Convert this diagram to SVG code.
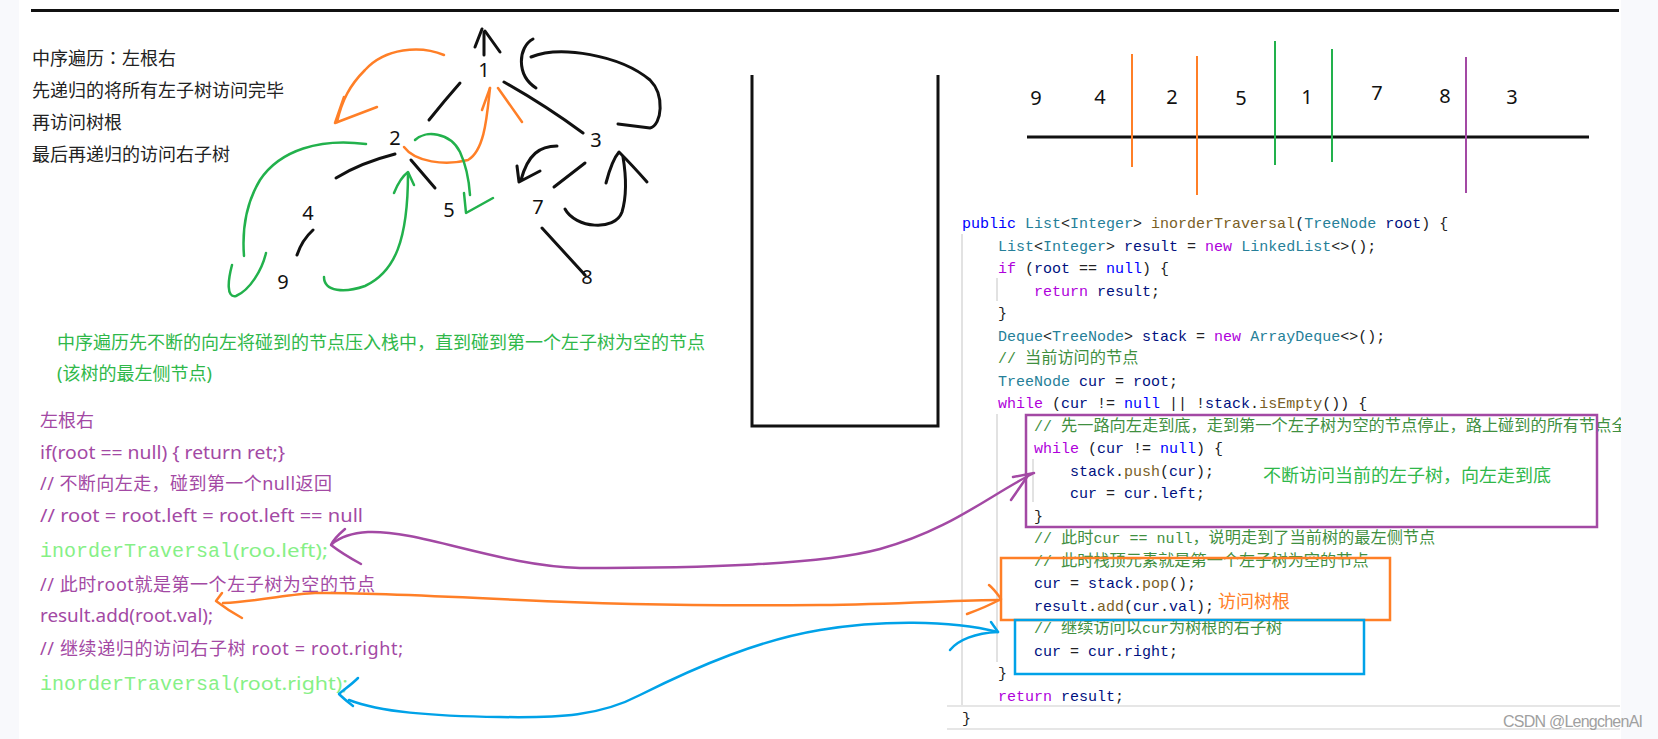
<svg xmlns="http://www.w3.org/2000/svg" width="1658" height="739" viewBox="0 0 1658 739">
<style>
.bg{fill:#ffffff}
.side{fill:#f8f9fc}
.blk{fill:none;stroke:#111;stroke-width:3;stroke-linecap:round;stroke-linejoin:round}
.org{fill:none;stroke:#ff7f27;stroke-width:2.5;stroke-linecap:round;stroke-linejoin:round}
.grn{fill:none;stroke:#22b14c;stroke-width:2.5;stroke-linecap:round;stroke-linejoin:round}
.pur{fill:none;stroke:#a349a4;stroke-width:2.5;stroke-linecap:round;stroke-linejoin:round}
.blu{fill:none;stroke:#00a2e8;stroke-width:2.5;stroke-linecap:round;stroke-linejoin:round}
.tn{font-family:"Noto Sans","DejaVu Sans",sans-serif;font-size:20px;fill:#111;text-anchor:middle}
.zhb{font-family:"Noto Sans","Noto Sans CJK SC",sans-serif;font-size:18px;fill:#222}
.zhg{font-family:"Noto Sans","Noto Sans CJK SC",sans-serif;font-size:18px;fill:#2fb84a}
.zhp{font-family:"Noto Sans","Noto Sans CJK SC",sans-serif;font-size:18px;fill:#a349a4}
.lg{font-family:"Noto Sans","Noto Sans CJK SC",sans-serif;font-size:18px;fill:#86f086}
.lgm{font-family:"Liberation Mono","DejaVu Sans Mono",monospace;font-size:20px;fill:#86f086}
.code{font-family:"Liberation Mono","DejaVu Sans Mono","Noto Sans CJK SC",monospace;font-size:15px;fill:#222}
.zh{font-family:"Noto Sans CJK SC",sans-serif;font-size:16.2px}
.cm{fill:#3f8f3f}
.kw{fill:#af00db}
.st{fill:#0000ff}
.ty{fill:#267f99}
.fn{fill:#795e26}
.vr{fill:#001080}
.guide{stroke:#d8d8d8;stroke-width:1.5}
.sep{stroke:#e6e6e6;stroke-width:2}
</style>
<defs>
<clipPath id="codeclip"><rect x="940" y="200" width="681" height="539"/></clipPath>
</defs>
<rect class="bg" x="0" y="0" width="1658" height="739"/>
<rect class="side" x="0" y="0" width="19" height="739"/>
<rect class="side" x="1621" y="0" width="37" height="739"/>
<line x1="31" y1="10.5" x2="1619" y2="10.5" stroke="#111" stroke-width="3"/>

<g id="intro-text">
<text class="zhb" x="32" y="65">中序遍历<tspan font-family="Noto Sans CJK TC, sans-serif">：</tspan>左根右</text>
<text class="zhb" x="32" y="97">先递归的将所有左子树访问完毕</text>
<text class="zhb" x="32" y="129">再访问树根</text>
<text class="zhb" x="32" y="161">最后再递归的访问右子树</text>
</g>

<g id="tree-edges">
<path class="blk" d="M460 83 Q445 100 429 120"/>
<path class="blk" d="M504 82 Q545 105 583 133"/>
<path class="blk" d="M395 154 Q360 163 336 178"/>
<path class="blk" d="M411 160 L435 188"/>
<path class="blk" d="M585 163 L554 187"/>
<path class="blk" d="M313 230 Q302 240 297 255"/>
<path class="blk" d="M542 228 L585 275"/>
</g>

<g id="tree-nodes">
<g id="n1"><text class="tn" x="484" y="77">1</text></g>
<g id="n2"><text class="tn" x="395" y="145">2</text></g>
<g id="n3"><text class="tn" x="596" y="147">3</text></g>
<g id="n4"><text class="tn" x="308" y="220">4</text></g>
<g id="n5"><text class="tn" x="449" y="217">5</text></g>
<g id="n7"><text class="tn" x="538" y="214">7</text></g>
<g id="n8"><text class="tn" x="587" y="284">8</text></g>
<g id="n9"><text class="tn" x="283" y="289">9</text></g>
</g>

<g id="tree-arrows">
<path class="blk" d="M484 55 L484 32"/>
<path class="blk" d="M475 47 L482 29 M485 31 L500 52"/>
<path class="blk" d="M531 57 C560 45 620 55 650 80 C665 95 662 125 650 128 L618 124"/>
<path class="blk" d="M533 39 C518 47 516 75 536 88"/>
<path class="blk" d="M565 209 C575 228 615 232 622 212 C627 195 626 175 623 157"/>
<path class="blk" d="M606 183 Q612 160 619 152 Q632 165 647 182"/>
<path class="blk" d="M557 146 C540 146 528 154 521 180 M517 166 L519 182 L540 171"/>
<path class="org" d="M444 55 C420 45 385 48 365 70 C350 85 342 100 337 122"/>
<path class="org" d="M344 97 L335 123 L377 107"/>
<path class="org" d="M404 147 C415 162 445 166 468 160 C485 150 487 115 490 88"/>
<path class="org" d="M482 110 L490 88"/>
<path class="org" d="M498 88 L522 122"/>
<path class="grn" d="M366 144 C320 138 280 150 260 180 C245 205 242 230 244 256"/>
<path class="grn" d="M232 265 C228 280 226 298 236 296 C250 290 262 270 266 253"/>
<path class="grn" d="M324 277 C324 292 345 293 365 286 C395 272 408 240 408 173"/>
<path class="grn" d="M394 193 Q400 178 408 172 L414 185"/>
<path class="grn" d="M415 140 C425 130 450 132 460 152 C466 165 469 180 470 195"/>
<path class="grn" d="M464 193 L466 213 L493 198"/>
</g>

<g id="stack">
<path d="M752 75 L752 426 L938 426 L938 75" fill="none" stroke="#111" stroke-width="3"/>
</g>

<g id="sequence">
<line x1="1027" y1="137" x2="1589" y2="137" stroke="#111" stroke-width="3"/>
<text class="tn" x="1036" y="105">9</text>
<text class="tn" x="1100" y="104">4</text>
<text class="tn" x="1172" y="104">2</text>
<text class="tn" x="1241" y="105">5</text>
<text class="tn" x="1307" y="104">1</text>
<text class="tn" x="1377" y="100">7</text>
<text class="tn" x="1445" y="103">8</text>
<text class="tn" x="1512" y="104">3</text>
<line x1="1132" y1="54" x2="1132" y2="167" stroke="#ff7f27" stroke-width="2"/>
<line x1="1197" y1="56" x2="1197" y2="195" stroke="#ff7f27" stroke-width="2"/>
<line x1="1275" y1="41" x2="1275" y2="165" stroke="#22b14c" stroke-width="2"/>
<line x1="1332" y1="49" x2="1332" y2="162" stroke="#22b14c" stroke-width="2"/>
<line x1="1466" y1="57" x2="1466" y2="193" stroke="#a349a4" stroke-width="2"/>
</g>

<g id="note-text">
<text class="zhg" x="57" y="349">中序遍历先不断的向左将碰到的节点压入栈中，直到碰到第一个左子树为空的节点</text>
<text class="zhg" x="57" y="380">(该树的最左侧节点)</text>
</g>

<g id="recursive-code">
<text class="zhp" x="40" y="427">左根右</text>
<text class="zhp" x="40" y="459" textLength="245" lengthAdjust="spacingAndGlyphs">if(root == null) { return ret;}</text>
<text class="zhp" x="40" y="490" textLength="292" lengthAdjust="spacing">// 不断向左走，碰到第一个null返回</text>
<text class="zhp" x="40" y="522" textLength="323" lengthAdjust="spacingAndGlyphs">// root = root.left = root.left == null</text>
<text class="lgm" x="40" y="557">inorderTraversal</text>
<text class="lg" x="233" y="557" textLength="95" lengthAdjust="spacingAndGlyphs">(roo.left);</text>
<text class="zhp" x="40" y="591" textLength="335" lengthAdjust="spacing">// 此时root就是第一个左子树为空的节点</text>
<text class="zhp" x="40" y="622" textLength="173" lengthAdjust="spacingAndGlyphs">result.add(root.val);</text>
<text class="zhp" x="40" y="655" textLength="363" lengthAdjust="spacing">// 继续递归的访问右子树 root = root.right;</text>
<text class="lgm" x="40" y="690">inorderTraversal</text>
<text class="lg" x="233" y="690" textLength="115" lengthAdjust="spacingAndGlyphs">(root.right);</text>
</g>

<g id="code-panel">
<line class="guide" x1="962" y1="234" x2="962" y2="705"/>
<line class="guide" x1="997" y1="278" x2="997" y2="301"/>
<line class="guide" x1="997" y1="414" x2="997" y2="662"/>
<line class="guide" x1="1033" y1="459" x2="1033" y2="502"/>
<line class="sep" x1="947" y1="706" x2="1620" y2="706"/>
<line class="sep" x1="947" y1="729" x2="1620" y2="729"/>
<g clip-path="url(#codeclip)">
<text class="code" x="962" y="228"><tspan class="st">public</tspan> <tspan class="ty">List</tspan>&lt;<tspan class="ty">Integer</tspan>&gt; <tspan class="fn">inorderTraversal</tspan>(<tspan class="ty">TreeNode</tspan> <tspan class="vr">root</tspan>) {</text>
<text class="code" x="998" y="250.5"><tspan class="ty">List</tspan>&lt;<tspan class="ty">Integer</tspan>&gt; <tspan class="vr">result</tspan> = <tspan class="kw">new</tspan> <tspan class="ty">LinkedList</tspan>&lt;&gt;();</text>
<text class="code" x="998" y="273"><tspan class="kw">if</tspan> (<tspan class="vr">root</tspan> == <tspan class="st">null</tspan>) {</text>
<text class="code" x="1034" y="295.5"><tspan class="kw">return</tspan> <tspan class="vr">result</tspan>;</text>
<text class="code" x="998" y="318">}</text>
<text class="code" x="998" y="340.5"><tspan class="ty">Deque</tspan>&lt;<tspan class="ty">TreeNode</tspan>&gt; <tspan class="vr">stack</tspan> = <tspan class="kw">new</tspan> <tspan class="ty">ArrayDeque</tspan>&lt;&gt;();</text>
<text class="code cm" x="998" y="363">// <tspan class="zh">当前访问的节点</tspan></text>
<text class="code" x="998" y="385.5"><tspan class="ty">TreeNode</tspan> <tspan class="vr">cur</tspan> = <tspan class="vr">root</tspan>;</text>
<text class="code" x="998" y="408"><tspan class="kw">while</tspan> (<tspan class="vr">cur</tspan> != <tspan class="st">null</tspan> || !<tspan class="vr">stack</tspan>.<tspan class="fn">isEmpty</tspan>()) {</text>
<text class="code cm" x="1034" y="430.5">// <tspan class="zh">先一路向左走到底，走到第一个左子树为空的节点停止，路上碰到的所有节点全</tspan></text>
<text class="code" x="1034" y="453"><tspan class="kw">while</tspan> (<tspan class="vr">cur</tspan> != <tspan class="st">null</tspan>) {</text>
<text class="code" x="1070" y="475.5"><tspan class="vr">stack</tspan>.<tspan class="fn">push</tspan>(<tspan class="vr">cur</tspan>);</text>
<text class="code" x="1070" y="498"><tspan class="vr">cur</tspan> = <tspan class="vr">cur</tspan>.<tspan class="vr">left</tspan>;</text>
<text class="code" x="1034" y="520.5">}</text>
<text class="code cm" x="1034" y="543">// <tspan class="zh">此时</tspan>cur == null<tspan class="zh">，说明走到了当前树的最左侧节点</tspan></text>
<text class="code cm" x="1034" y="565.5">// <tspan class="zh">此时栈顶元素就是第一个左子树为空的节点</tspan></text>
<text class="code" x="1034" y="588"><tspan class="vr">cur</tspan> = <tspan class="vr">stack</tspan>.<tspan class="fn">pop</tspan>();</text>
<text class="code" x="1034" y="610.5"><tspan class="vr">result</tspan>.<tspan class="fn">add</tspan>(<tspan class="vr">cur</tspan>.<tspan class="vr">val</tspan>);</text>
<text class="code cm" x="1034" y="633">// <tspan class="zh">继续访问以</tspan>cur<tspan class="zh">为树根的右子树</tspan></text>
<text class="code" x="1034" y="655.5"><tspan class="vr">cur</tspan> = <tspan class="vr">cur</tspan>.<tspan class="vr">right</tspan>;</text>
<text class="code" x="998" y="678">}</text>
<text class="code" x="998" y="700.5"><tspan class="kw">return</tspan> <tspan class="vr">result</tspan>;</text>
<text class="code" x="962" y="723">}</text>
</g>
</g>

<g id="box-left-loop">
<rect x="1026" y="415" width="571" height="112" fill="none" stroke="#a349a4" stroke-width="2.5"/>
<text class="zhg" x="1263" y="482">不断访问当前的左子树，向左走到底</text>
</g>
<g id="box-root">
<rect x="1001" y="558" width="389" height="62" fill="none" stroke="#ff7f27" stroke-width="2.5"/>
<text x="1218" y="608" font-family="Noto Sans CJK SC, sans-serif" font-size="18" fill="#ff7f27">访问树根</text>
</g>
<g id="box-right">
<rect x="1015" y="620" width="349" height="54" fill="none" stroke="#00a2e8" stroke-width="2.5"/>
</g>

<g id="connectors">
<path class="pur" d="M1032 474 C990 495 950 530 880 549 C820 565 700 568 580 568 C500 566 420 530 368 532 C352 533 340 537 332 544"/>
<path class="pur" d="M345 529 C338 535 333 540 331 545 C340 552 350 558 361 564"/>
<path class="pur" d="M1013 477 L1034 473 M1011 500 L1027 477"/>
<path class="org" d="M1000 600 C960 600 900 604 820 605 C720 606 600 604 520 600 C440 596 360 592 315 593 C290 594 260 601 223 603"/>
<path class="org" d="M222 593 L216 601 C225 608 233 613 242 618"/>
<path class="org" d="M989 585 C995 590 998 595 1001 599 C990 605 978 610 967 614"/>
<path class="blu" d="M349 700 C380 712 430 716 500 717 C560 718 600 716 640 695 C700 665 760 640 820 630 C880 620 950 620 998 632"/>
<path class="blu" d="M991 622 L998 632 M950 650 C958 640 975 633 998 632"/>
<path class="blu" d="M358 678 C350 686 343 690 339 694 C344 699 348 702 353 706"/>
</g>

<text x="1503" y="727" font-family="Liberation Sans, Arial, sans-serif" font-size="16" fill="#a0a0a0" textLength="140">CSDN @LengchenAI</text>
</svg>
